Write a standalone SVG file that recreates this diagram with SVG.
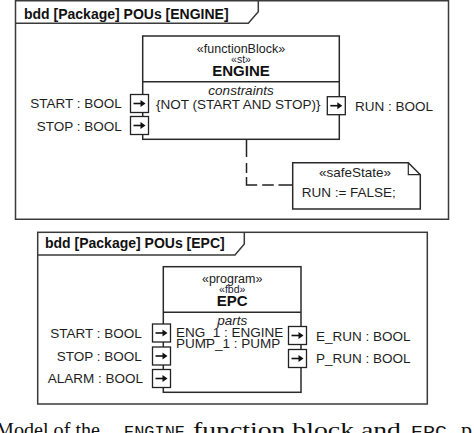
<svg xmlns="http://www.w3.org/2000/svg" xmlns:xlink="http://www.w3.org/1999/xlink" width="474" height="433" viewBox="0 0 474 433">
<style>
.bg{fill:#ffffff}
.frame{fill:none;stroke:#3a3a3a;stroke-width:1.5}
.box{fill:#ffffff;stroke:#2a2a2a;stroke-width:1.5}
.t{font-family:"Liberation Sans",Arial,sans-serif;font-size:13.5px;fill:#1e1e1e}
.hdr{font-family:"Liberation Sans",Arial,sans-serif;font-size:14px;font-weight:bold;fill:#111}
.st{font-family:"Liberation Sans",Arial,sans-serif;font-size:12.5px;fill:#222}
.st2{font-family:"Liberation Sans",Arial,sans-serif;font-size:10.5px;fill:#223}
.nm{font-family:"Liberation Sans",Arial,sans-serif;font-size:15px;font-weight:bold;fill:#111}
.it{font-family:"Liberation Sans",Arial,sans-serif;font-size:13.5px;font-style:italic;fill:#222}
.mid{text-anchor:middle}
.end{text-anchor:end}
.dash{fill:none;stroke:#222;stroke-width:1.5;stroke-dasharray:17.5 6 10 4 18.7 5 11.6 4.7 15}
.cap{font-family:"Liberation Serif","Times New Roman",serif;font-size:22px;fill:#111}
.capm{font-family:"Liberation Mono","Courier New",monospace;font-size:17px;fill:#111}
</style>
<defs>
<g id="port">
<rect x="0" y="0" width="18" height="18" fill="#fff" stroke="#222" stroke-width="1.3"/>
<line x1="3" y1="9" x2="11" y2="9" stroke="#111" stroke-width="1.6"/>
<polygon points="10,5.5 15,9 10,12.5" fill="#111"/>
</g>
</defs>
<rect class="bg" x="0" y="0" width="474" height="433"/>

<g id="frame-engine">
<rect class="frame" x="15.5" y="0.75" width="433" height="218.5"/>
<path class="frame" d="M15.5 23.3 H248.3 L258.3 11.7 V0.75"/>
<text class="hdr" x="24" y="18.5">bdd [Package] POUs [ENGINE]</text>
</g>

<g id="engine-block">
<rect class="box" x="142.7" y="36" width="196.6" height="103.3"/>
<line x1="142.7" y1="81.7" x2="339.3" y2="81.7" stroke="#2a2a2a" stroke-width="1.5"/>
<text class="st mid" x="241" y="52.5">«functionBlock»</text>
<text class="st2 mid" x="241" y="63">«st»</text>
<text class="nm mid" x="241" y="75.5">ENGINE</text>
<text class="it mid" x="241" y="94.5">constraints</text>
<text class="t" x="156" y="108.5">{NOT (START AND STOP)}</text>
</g>

<g id="engine-ports">
<use xlink:href="#port" x="130.5" y="94.5"/>
<use xlink:href="#port" x="130.5" y="116.5"/>
<use xlink:href="#port" x="327.3" y="96.7"/>
<text class="t end" x="121.7" y="108.3">START : BOOL</text>
<text class="t end" x="121.7" y="131">STOP : BOOL</text>
<text class="t" x="355" y="111">RUN : BOOL</text>
</g>

<g id="connectors">
<path class="dash" d="M246.5 139.5 V185 H292.7"/>
</g>

<g id="safe-state-note">
<path class="box" d="M292.7 162.7 H408.3 L420.3 174.7 V209 H292.7 Z"/>
<path d="M408.3 162.7 V174.7 H420.3" fill="none" stroke="#2a2a2a" stroke-width="1.2"/>
<text class="t mid" x="355" y="177.3">«safeState»</text>
<text class="t" x="301.7" y="196.7">RUN := FALSE;</text>
</g>

<g id="frame-epc">
<rect class="frame" x="37.7" y="232.3" width="389.6" height="171.7"/>
<path class="frame" d="M37.7 255 H235 L244.3 244 V232.3"/>
<text class="hdr" x="45" y="248.3">bdd [Package] POUs [EPC]</text>
</g>

<g id="epc-block">
<rect class="box" x="163.3" y="266.7" width="137.7" height="125.6"/>
<line x1="163.3" y1="312.3" x2="301" y2="312.3" stroke="#2a2a2a" stroke-width="1.5"/>
<text class="st mid" x="232.2" y="283.3">«program»</text>
<text class="st2 mid" x="232.2" y="293">«fbd»</text>
<text class="nm mid" x="232.2" y="305.5">EPC</text>
<text class="it mid" x="232.2" y="325">parts</text>
<text class="t" x="176" y="337.3">ENG_1 : ENGINE</text>
<text class="t" x="176" y="348.3">PUMP_1 : PUMP</text>
</g>

<g id="epc-ports">
<use xlink:href="#port" x="152.5" y="324"/>
<use xlink:href="#port" x="152.5" y="347"/>
<use xlink:href="#port" x="152.5" y="369.5"/>
<use xlink:href="#port" x="288.5" y="326.5"/>
<use xlink:href="#port" x="288.5" y="349.5"/>
<text class="t end" x="141.7" y="338.3">START : BOOL</text>
<text class="t end" x="141.7" y="361">STOP : BOOL</text>
<text class="t end" x="143" y="383.3">ALARM : BOOL</text>
<text class="t" x="316" y="340.7">E_RUN : BOOL</text>
<text class="t" x="316" y="362.7">P_RUN : BOOL</text>
</g>

<g id="caption">
<text class="cap" x="-4" y="437" textLength="104" lengthAdjust="spacingAndGlyphs">Model of the</text>
<text class="capm" x="124" y="437" textLength="61" lengthAdjust="spacingAndGlyphs">ENGINE</text>
<text class="cap" x="193" y="437" textLength="208" lengthAdjust="spacingAndGlyphs">function block and</text>
<text class="capm" x="411" y="437" textLength="36" lengthAdjust="spacingAndGlyphs">EPC</text>
<text class="cap" x="461" y="437">p</text>
</g>
</svg>
